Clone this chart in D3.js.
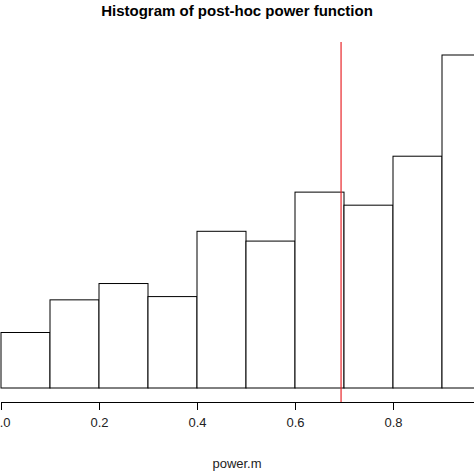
<!DOCTYPE html><html><head><script src="https://d3js.org/d3.v7.min.js"></script>
<style>body{margin:0;background:#fff}</style></head><body><script>
const binEdges=[0,0.1,0.2,0.3,0.4,0.5,0.6,0.7,0.8,0.9,1.0];
const counts=[17,27,32,28,48,45,60,56,71,102];
const tickVals=[0,0.2,0.4,0.6,0.8,1.0];
const meanPower=0.694;
const W=474,H=474;
const svg=d3.select("body").append("svg").attr("width",W).attr("height",H);
const x=d3.scaleLinear().domain([0,1]).range([1,491]);
const y=d3.scaleLinear().domain([0,102]).range([388,55]);
svg.selectAll("rect").data(counts).enter().append("rect")
 .attr("x",(d,i)=>x(binEdges[i])).attr("width",(d,i)=>x(binEdges[i+1])-x(binEdges[i]))
 .attr("y",d=>y(d)).attr("height",d=>y(0)-y(d))
 .attr("fill","white").attr("stroke","black").attr("stroke-width",1);
const ax=svg.append("g").attr("transform","translate(0,402)")
 .call(d3.axisBottom(x).tickValues(tickVals).tickFormat(d3.format(".1f")).tickSize(8).tickPadding(8).tickSizeOuter(0));
ax.select(".domain").attr("stroke","black");
ax.selectAll("text").attr("font-family","Liberation Sans, Arial").attr("font-size","13px").attr("fill","#222");
svg.append("line").attr("x1",x(meanPower)).attr("x2",x(meanPower)).attr("y1",42).attr("y2",402).attr("stroke","#e8262a").attr("stroke-width",1.2);
svg.append("text").attr("x",237).attr("y",16).attr("text-anchor","middle").attr("font-family","Liberation Sans, Arial").attr("font-weight","bold").attr("font-size","15px").text("Histogram of post-hoc power function");
svg.append("text").attr("x",237).attr("y",468).attr("text-anchor","middle").attr("font-family","Liberation Sans, Arial").attr("font-size","13px").attr("fill","#222").text("power.m");
</script></body></html>
